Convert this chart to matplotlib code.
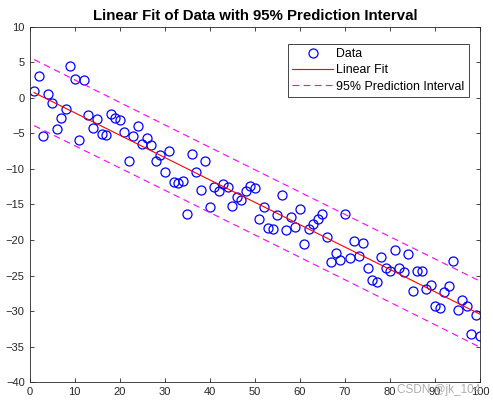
import numpy as np
import matplotlib.pyplot as plt

plt.rcParams['font.family'] = ['Liberation Sans', 'DejaVu Sans']

x = np.arange(1, 101)
y = np.array([
    0.9, 3.1, -5.3, 0.6, -0.75, -4.4, -2.9, -1.6, 4.5, 2.7,
    -5.9, 2.5, -2.4, -4.3, -3.0, -5.1, -5.2, -2.3, -2.8, -3.1,
    -4.8, -8.9, -5.3, -3.9, -6.5, -5.7, -6.6, -8.9, -8.0, -10.5,
    -7.5, -11.8, -12.0, -11.7, -16.3, -7.9, -10.4, -12.9, -8.9, -15.4,
    -12.5, -13.1, -12.1, -12.5, -15.2, -13.9, -14.4, -13.1, -12.4, -12.7,
    -17.0, -15.4, -18.3, -18.4, -16.5, -13.7, -18.6, -16.7, -18.1, -15.7,
    -20.5, -18.5, -17.7, -17.0, -16.3, -19.6, -23.1, -21.8, -22.8, -16.3,
    -22.5, -20.1, -22.3, -20.4, -24.0, -25.6, -25.9, -22.4, -24.0, -24.3,
    -21.4, -24.0, -24.5, -22.0, -27.1, -24.4, -24.4, -26.9, -26.3, -29.3,
    -29.5, -27.3, -26.5, -23.0, -29.8, -28.4, -29.3, -33.2, -30.6, -33.5])

# linear fit + 95% prediction interval
p = np.polyfit(x, y, 1)
yfit = np.polyval(p, x)
n = len(x)
s = np.sqrt(np.sum((y - yfit)**2) / (n - 2))
t = 1.9845  # t(0.975, 98)
xm = x.mean()
half = t * s * np.sqrt(1 + 1/n + (x - xm)**2 / np.sum((x - xm)**2))

fig = plt.figure(figsize=(4.93, 4.11), dpi=100)
ax = fig.add_axes([0.060, 0.070, 0.914, 0.865])

ax.plot(x, y, 'o', mfc='none', mec='#0000ff', mew=0.9, ms=6.5, label='Data')
ax.plot(x, yfit, '-', color='#ff0000', lw=0.8, label='Linear Fit')
ax.plot(x, yfit + half, '--', color='#ff00ff', lw=0.8, dashes=(6, 4),
        label='95% Prediction Interval')
ax.plot(x, yfit - half, '--', color='#ff00ff', lw=0.8, dashes=(6, 4))

ax.set_xlim(0, 100)
ax.set_ylim(-40, 10)
ax.set_xticks(range(0, 101, 10))
ax.set_yticks(range(-40, 11, 5))
ax.tick_params(direction='in', top=True, right=True, length=3, width=0.6,
               labelsize=8, colors='#262626')
for sp in ax.spines.values():
    sp.set_linewidth(0.6)
    sp.set_color('#262626')

ax.set_title('Linear Fit of Data with 95% Prediction Interval',
             fontsize=10.8, fontweight='bold', pad=5)

leg = ax.legend(loc='upper right', bbox_to_anchor=(0.988, 0.97), fontsize=8.9,
                fancybox=False, edgecolor='#262626', framealpha=1,
                handlelength=3.3, borderpad=0.35, labelspacing=0.35, handletextpad=0.25)
leg.get_frame().set_linewidth(0.6)

fig.text(0.89, 0.045, 'CSDN @jk_104', fontsize=8.5, color='#9a9a9a', ha='center', alpha=0.8)

fig.savefig('out.png', dpi=100)
